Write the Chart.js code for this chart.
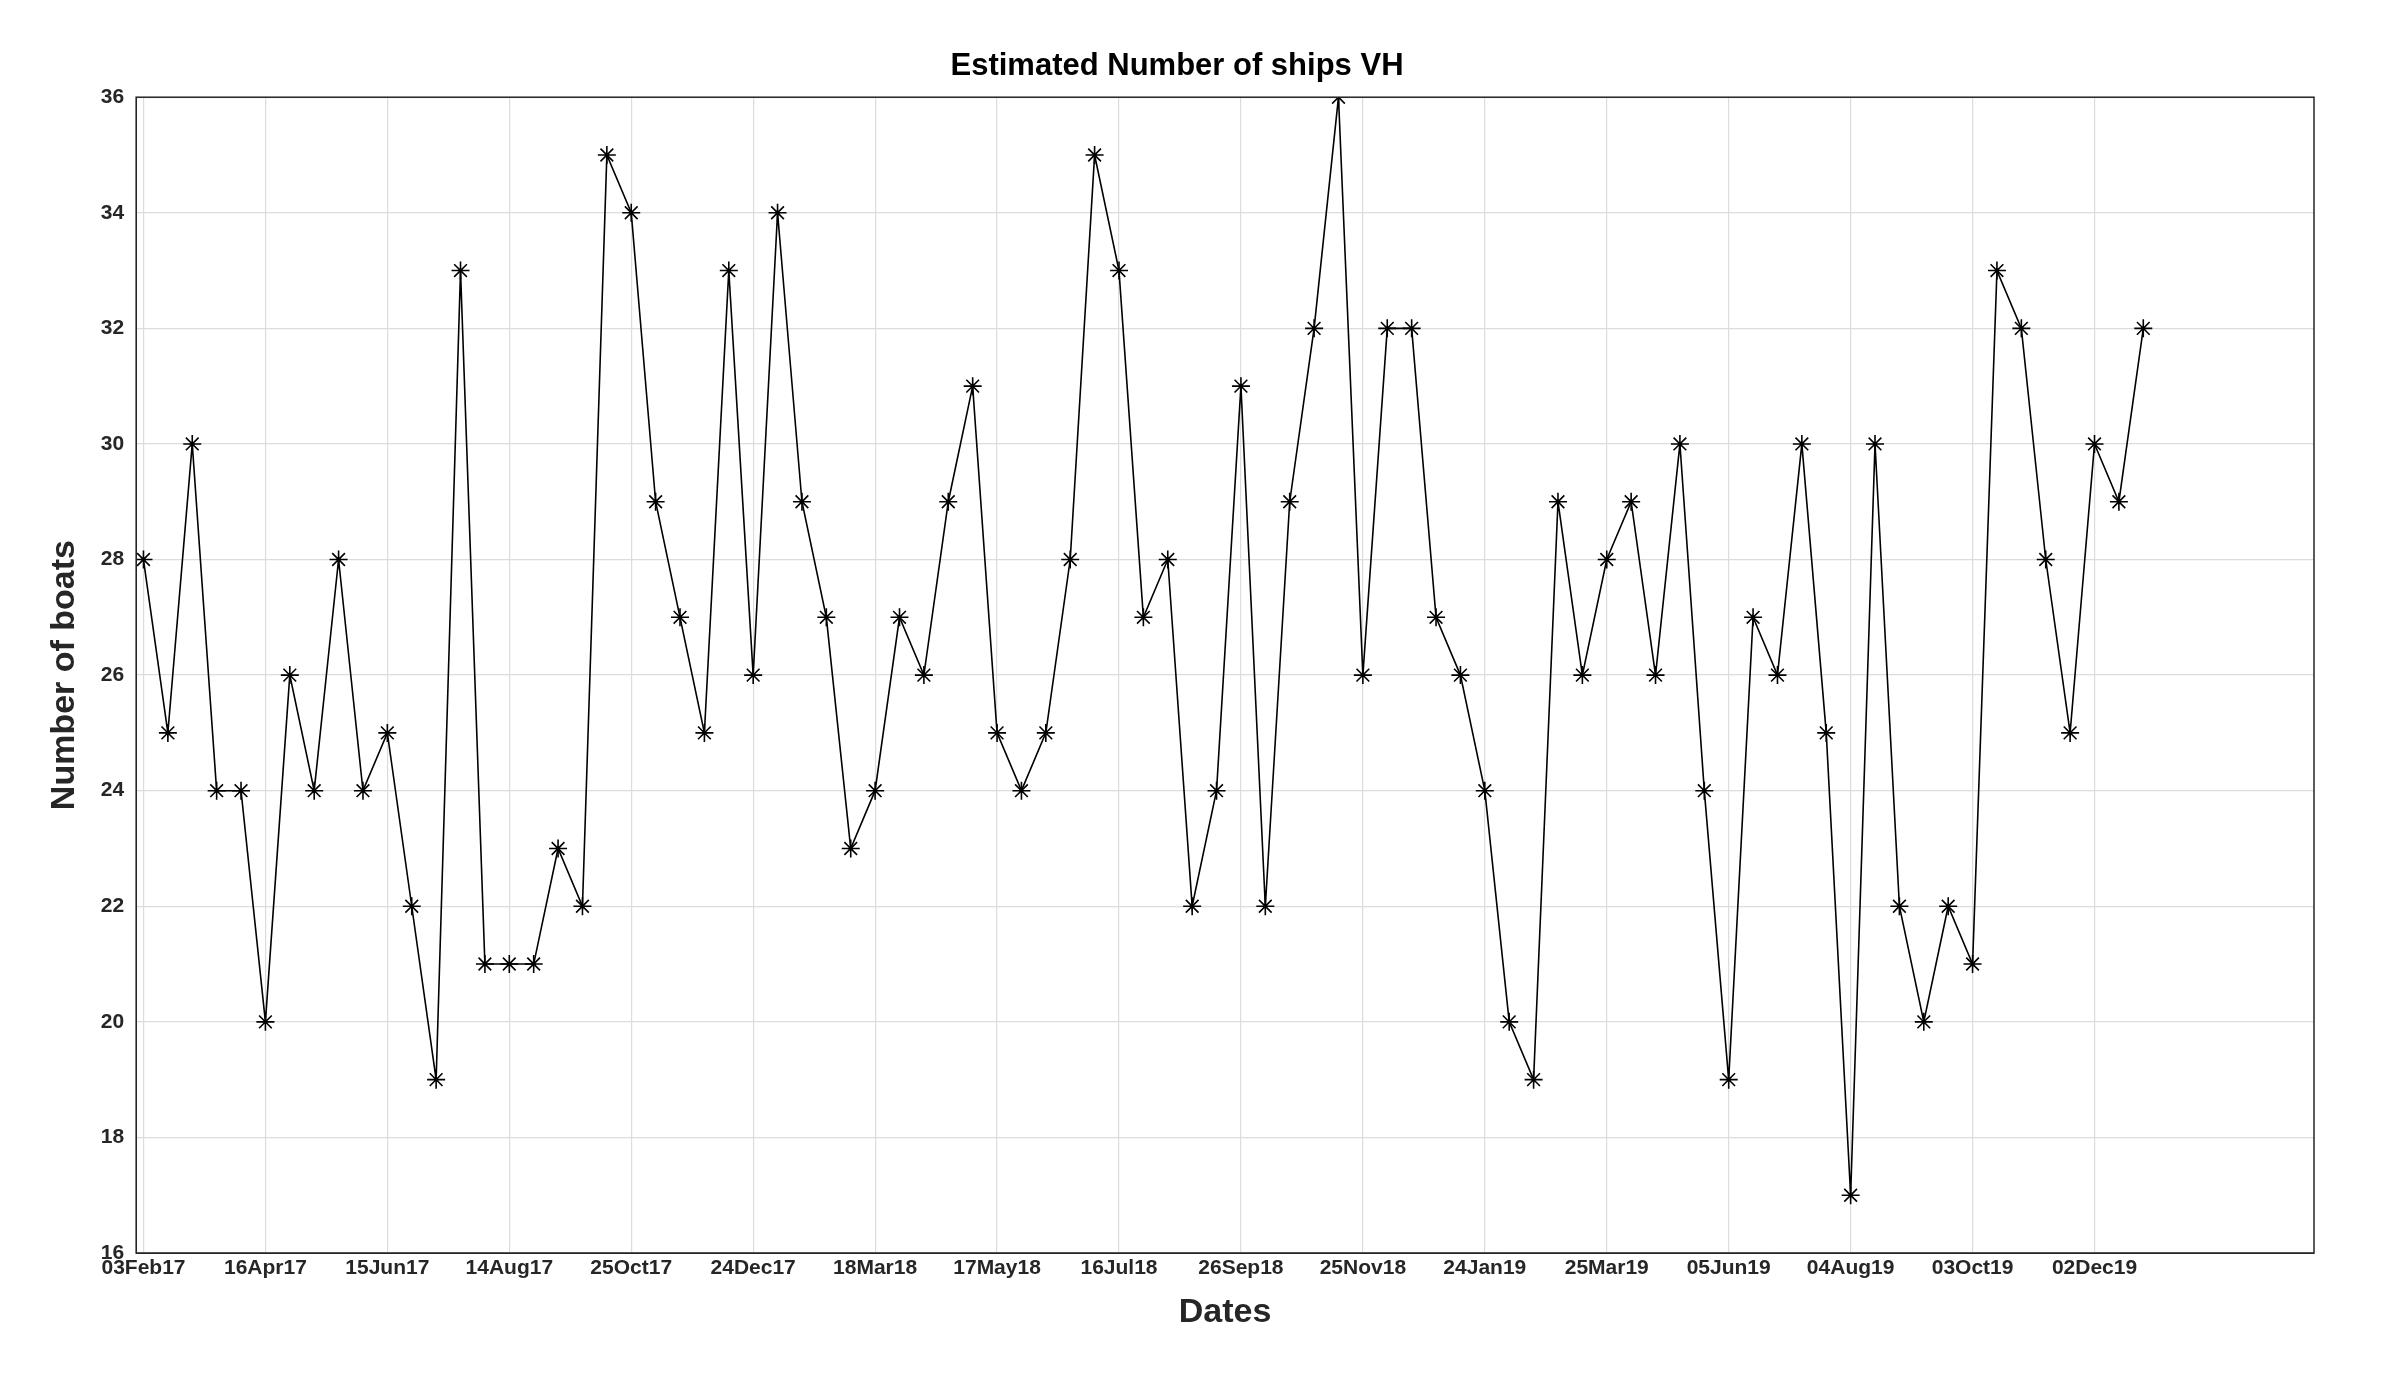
<!DOCTYPE html>
<html><head><meta charset="utf-8">
<script src="https://cdn.jsdelivr.net/npm/chart.js@4"></script>
<style>html,body{margin:0;padding:0;background:#fff}canvas{display:block}</style>
</head><body>
<canvas id="c" width="2390" height="1389"></canvas>
<script>
const tickLabels = ["03Feb17","16Apr17","15Jun17","14Aug17","25Oct17","24Dec17","18Mar18","17May18","16Jul18","26Sep18","25Nov18","24Jan19","25Mar19","05Jun19","04Aug19","03Oct19","02Dec19"];
const boats = [28,25,30,24,24,20,26,24,28,24,25,22,19,33,21,21,21,23,22,35,34,29,27,25,33,26,34,29,27,23,24,27,26,29,31,25,24,25,28,35,33,27,28,22,24,31,22,29,32,36,26,32,32,27,26,24,20,19,29,26,28,29,26,30,24,19,27,26,30,25,17,30,22,20,22,21,33,32,28,25,30,29,32];
const yTicks = [16,18,20,22,24,26,28,30,32,34,36];
const pts = boats.map((v,i)=>({x:i,y:v}));
const font = 'Liberation Sans, Arial, sans-serif';
const box = {id:'box',afterDraw(ch){const a=ch.chartArea,c=ch.ctx;c.save();c.strokeStyle='#262626';c.lineWidth=1.5;c.strokeRect(a.left,a.top,a.right-a.left,a.bottom-a.top);c.restore();}};
new Chart(document.getElementById('c'),{
 type:'line',
 data:{datasets:[{data:pts,borderColor:'#000',borderWidth:1.6,pointStyle:'star',pointRadius:9,pointBorderWidth:1.6,pointBorderColor:'#000',pointBackgroundColor:'#000',tension:0}]},
 options:{responsive:false,devicePixelRatio:1,animation:false,
  layout:{padding:{left:40,right:76,top:18,bottom:52}},
  plugins:{legend:{display:false},tooltip:{enabled:false},
   title:{display:true,text:'Estimated Number of ships VH',color:'#000',font:{family:font,size:31,weight:'bold'},padding:{top:30,bottom:12}}},
  scales:{
   x:{type:'linear',min:-0.3,max:89,
    afterBuildTicks(s){s.ticks=tickLabels.map((_,i)=>({value:i*5}));},
    ticks:{autoSkip:false,maxRotation:0,color:'#262626',font:{family:font,size:21,weight:'bold'},callback:(v)=>tickLabels[v/5]},
    grid:{color:'#dcdcdc',lineWidth:1.2,tickLength:0},border:{color:'#262626'},
    title:{display:true,text:'Dates',color:'#262626',font:{family:font,size:34,weight:'bold'},padding:{top:8}}},
   y:{min:16,max:36,
    afterBuildTicks(s){s.ticks=yTicks.map(v=>({value:v}));},
    ticks:{color:'#262626',font:{family:font,size:21,weight:'bold'},padding:12},
    grid:{color:'#dcdcdc',lineWidth:1.2,tickLength:0},border:{color:'#262626'},
    title:{display:true,text:'Number of boats',color:'#262626',font:{family:font,size:34,weight:'bold'}}}
  }},
 plugins:[box]
});
</script>
</body></html>
